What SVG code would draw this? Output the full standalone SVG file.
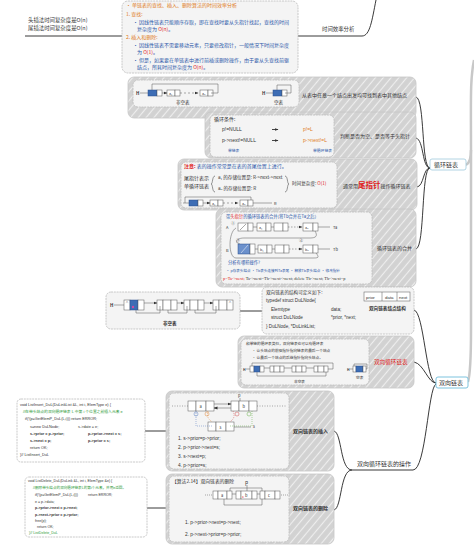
<svg xmlns="http://www.w3.org/2000/svg" width="474" height="553" viewBox="0 0 474 553">
<defs>
<pattern id="hatch" patternUnits="userSpaceOnUse" width="6" height="6" patternTransform="rotate(-50)">
<rect width="6" height="6" fill="#d2d2d2"/>
<line x1="0" y1="1.5" x2="6" y2="1.5" stroke="#eeeeee" stroke-width="1.2"/>
</pattern>
<marker id="ar" markerWidth="4" markerHeight="4" refX="3.5" refY="2" orient="auto" markerUnits="userSpaceOnUse"><path d="M0,0.5 L4,2 L0,3.5z" fill="#333"/></marker>
</defs>
<style>
text { font-family: "Noto Sans CJK SC","Noto Sans",sans-serif; font-size:5px; fill:#333; }
.hatch { fill:url(#hatch); stroke:#c6c6c6; stroke-width:0.8; }
.card { fill:#f4f4f4; stroke:#bdbdbd; stroke-width:0.8; stroke-dasharray:2 0.8; }
.wcard { fill:#ffffff; stroke:#bdbdbd; stroke-width:0.8; stroke-dasharray:2 0.8; }
.conn { fill:none; stroke:#222; stroke-width:0.9; }
.blue { fill:#2a56a8; }
.org { fill:#e07b1a; }
.red { fill:#e02020; }
.grn { fill:#2e9a3a; }
.nd { fill:#fff; stroke:#555; stroke-width:0.5; }
.hd { fill:#3d6db5; stroke:#2a4e8a; stroke-width:0.5; }
.ln { fill:none; stroke:#555; stroke-width:0.5; }
.code { font-family:"Liberation Sans","Noto Sans CJK SC",sans-serif; font-size:3.8px; }
.b { font-weight:bold; }
.lbl { font-size:5.2px; }
</style>

<g id="connectors">
<path class="conn" d="M25,36 L122,36"/>
<path class="conn" d="M298,36 L362,36 C370,36 372,20 376,0"/>
<path class="conn" d="M430,168 C421,168 425,99 416,97"/>
<path class="conn" d="M430,168 C422,168 424,140 416,138"/>
<path class="conn" d="M430,168 C423,168 424,186 417,187"/>
<path class="conn" d="M430,168 C421,168 425,247 416,249"/>
<path class="conn" d="M436,383 C426,383 424,312 414,310"/>
<path class="conn" d="M436,383 C428,383 424,364 414,362"/>
<path class="conn" d="M352,470 L413,470 C426,470 428,388 436,384"/>
<path class="conn" d="M352,470 C340,470 342,433 334,431"/>
<path class="conn" d="M352,470 C340,470 342,508 334,510"/>
<path class="conn" d="M240,311 L262,311"/>
<path class="conn" d="M145,431 L166,431"/>
<path class="conn" d="M147,508 L166,508"/>
<path fill="none" stroke="#c8c8c8" stroke-width="2.5" d="M474,60 C470,80 471,100 471,150 L471,330 C471,365 470,375 468,382"/>
<path fill="none" stroke="#c8c8c8" stroke-width="2.5" d="M466,165 C470,163 471,158 471,150"/>
</g>

<g id="n-head">
<text x="28" y="22" style="font-size:5.4px">头插法时间复杂度是O(n)</text>
<text x="28" y="30" style="font-size:5.4px">尾插法时间复杂度是O(n)</text>
</g>

<g id="n-timebox">
<rect class="card" x="122" y="1" width="176" height="72" rx="6"/>
<text x="126" y="7" class="org">• 单链表的查找、插入、删除算法的时间效率分析</text>
<text x="126" y="16" class="org">1.  查找:</text>
<text x="133" y="24" class="blue">• 因线性链表只能顺序存取，即在查找时要从头指针找起，查找的时间</text>
<text x="137" y="31" class="blue">复杂度为 <tspan class="red">O(n)</tspan>。</text>
<text x="126" y="39" class="org">2.  插入和删除:</text>
<text x="133" y="47" class="blue">• 因线性链表不需要移动元素，只要修改指针，一般情况下时间复杂度</text>
<text x="137" y="54" class="blue">为 <tspan class="red">O(1)</tspan>。</text>
<text x="133" y="62" class="blue">• 但是，如果要在单链表中进行前插或删除操作，由于要从头查找前驱</text>
<text x="137" y="69" class="blue">结点，所耗时间复杂度为 <tspan class="red">O(n)</tspan>。</text>
</g>

<g id="n-time">
<text x="322" y="31" style="font-size:5.4px">时间效率分析</text>
</g>

<g id="n-circ">
<rect class="wcard" x="430" y="159" width="36" height="11" rx="2" style="stroke:#9fc9dc;stroke-dasharray:none"/>
<text x="434" y="167" style="font-size:6px">循环链表</text>
</g>

<g id="n-any">
<rect class="hatch" x="128" y="77" width="288" height="41" rx="6"/>
<rect class="card" x="133" y="80" width="166" height="27" rx="5"/>
<text x="136" y="95" class="b" style="font-size:4.5px">H</text>
<path class="ln" d="M140,93 L148,93"/>
<rect class="hd" x="148" y="90" width="9" height="6"/><rect class="nd" x="157" y="90" width="5" height="6"/>
<path class="ln" d="M162,93 L167,93" marker-end="url(#ar)"/>
<rect class="nd" x="167" y="90" width="8" height="6"/><rect class="nd" x="175" y="90" width="5" height="6"/>
<text x="169" y="95" style="font-size:3.5px">a₁</text>
<path class="ln" d="M180,93 L198,93" stroke-dasharray="2 2" marker-end="url(#ar)"/>
<rect class="nd" x="200" y="90" width="8" height="6"/><rect class="nd" x="208" y="90" width="5" height="6"/>
<text x="202" y="95" style="font-size:3.5px">aₙ</text>
<path class="ln" d="M211,93 L218,93 L218,84 L152,84 L152,90"/>
<text x="176" y="104" style="font-size:4.5px">非空表</text>
<text x="262" y="95" class="b" style="font-size:4.5px">H</text>
<path class="ln" d="M266,93 L273,93"/>
<rect class="hd" x="273" y="90" width="9" height="6"/><rect class="nd" x="282" y="90" width="5" height="6"/>
<path class="ln" d="M285,93 L291,93 L291,85 L277,85 L277,90"/>
<text x="274" y="104" style="font-size:4.5px">空表</text>
<text x="302" y="97">从表中任意一个结点出发均可找到表中其他结点</text>
</g>

<g id="n-empty">
<rect class="hatch" x="205" y="112" width="211" height="46" rx="6"/>
<rect class="card" x="210" y="115" width="124" height="42" rx="5"/>
<text x="214" y="121">循环条件:</text>
<text x="222" y="131" class="code" style="font-size:5px">p!=NULL</text>
<path d="M272,129.5 L278,129.5" stroke="#333" stroke-width="0.9" marker-end="url(#ar)"/>
<text x="303" y="131" class="code org" style="font-size:5px">p!=L</text>
<text x="222" y="142" class="code" style="font-size:5px">p->next!=NULL</text>
<path d="M272,140.5 L278,140.5" stroke="#333" stroke-width="0.9" marker-end="url(#ar)"/>
<text x="303" y="142" class="code org" style="font-size:5px">p->next!=L</text>
<text x="228" y="152" class="blue" style="font-size:3.8px">单链表</text>
<text x="313" y="152" class="blue" style="font-size:3.8px">单循环链表</text>
<text x="340" y="138">判断是否为空、是否等于头指针</text>
</g>

<g id="n-tail">
<rect class="hatch" x="178" y="159" width="239" height="51" rx="6"/>
<rect class="card" x="181" y="162" width="156" height="46" rx="5"/>
<text x="184" y="168"><tspan class="red b">注意:</tspan><tspan class="blue"> 表的操作常常是在表的首尾位置上进行。</tspan></text>
<text x="184" y="180">尾指针表示</text>
<text x="184" y="188">单循环链表</text>
<path class="ln" d="M215,176 C212,176 213,184 211,184 C213,184 212,192 215,192" style="stroke:#333"/>
<text x="218" y="179" style="font-size:4.6px">a₁ 的存储位置是: R->next->next</text>
<text x="218" y="190" style="font-size:4.6px">aₙ 的存储位置是: R</text>
<path class="ln" d="M285,176 C288,176 287,184 289,184 C287,184 288,192 285,192" style="stroke:#333"/>
<text x="292" y="185" style="font-size:4.6px">时间复杂度: <tspan class="red">O(1)</tspan></text>
<path class="ln" d="M183,203 L189,203"/>
<rect class="hd" x="189" y="200" width="9" height="6"/><rect class="nd" x="198" y="200" width="5" height="6"/>
<path class="ln" d="M203,203 L210,203" marker-end="url(#ar)"/>
<rect class="nd" x="210" y="200" width="8" height="6"/><rect class="nd" x="218" y="200" width="5" height="6"/>
<text x="212" y="205" style="font-size:3.5px">a₁</text>
<path class="ln" d="M223,203 L238,203" stroke-dasharray="2 2" marker-end="url(#ar)"/>
<rect class="nd" x="240" y="200" width="8" height="6"/><rect class="nd" x="248" y="200" width="5" height="6"/>
<text x="242" y="205" style="font-size:3.5px">aₙ</text>
<path class="ln" d="M253,203 L272,203"/>
<path class="ln" d="M251,200 L251,197 L185,197 L185,203"/>
<text x="274" y="205" style="font-size:4px">R</text>
<text x="343" y="188" style="font-size:5px">通常用<tspan class="red b" style="font-size:7.5px">尾指针</tspan>操作循环链表</text>
</g>

<g id="n-merge">
<rect class="hatch" x="216" y="209" width="200" height="78" rx="6"/>
<rect class="card" x="221" y="212" width="151" height="72" rx="5"/>
<text x="226" y="218" class="blue" style="font-size:4.3px">带<tspan class="red">头指针</tspan>的循环链表的合并(将Tb合并在Ta之后)</text>
<text x="226" y="229" style="font-size:4px">A</text>
<text x="231" y="225" style="font-size:4px">①</text>
<rect class="nd" x="238" y="223" width="10" height="8"/><rect class="nd" x="248" y="223" width="5" height="8"/>
<path class="ln" d="M240,230 L246,224"/>
<rect class="nd" x="257" y="223" width="9" height="8"/><rect class="nd" x="266" y="223" width="5" height="8"/>
<text x="259" y="229" style="font-size:3.5px">a₁</text>
<rect class="nd" x="274" y="223" width="9" height="8"/><rect class="nd" x="283" y="223" width="5" height="8"/>
<path class="ln" d="M288,227 L302,227" stroke-dasharray="1.5 1.5" marker-end="url(#ar)"/>
<rect class="nd" x="303" y="223" width="10" height="8"/><rect class="nd" x="313" y="223" width="5" height="8"/>
<text x="305" y="229" style="font-size:3.5px">aₙ</text>
<path class="ln" d="M253,227 L257,227 M271,227 L274,227 M318,227 L330,227"/>
<text x="333" y="229" style="font-size:4px">Ta</text>
<path class="ln" d="M315,231 C318,236 316,238 310,238 L244,238 C236,238 234,243 240,244"/>
<text x="299" y="242" style="font-size:4px">②</text>
<text x="236" y="242" style="font-size:4px">③</text>
<text x="226" y="252" style="font-size:4px">B</text>
<rect class="hd" x="238" y="244" width="12" height="10" style="fill:#6b90cc"/><rect class="nd" x="250" y="244" width="5" height="10"/>
<path class="ln" d="M241,253 L248,245" style="stroke:#fff"/>
<rect class="nd" x="258" y="245" width="9" height="8"/><rect class="nd" x="267" y="245" width="5" height="8"/>
<text x="260" y="251" style="font-size:3.5px">b₁</text>
<rect class="nd" x="275" y="245" width="9" height="8"/><rect class="nd" x="284" y="245" width="5" height="8"/>
<path class="ln" d="M289,249 L302,249" stroke-dasharray="1.5 1.5" marker-end="url(#ar)"/>
<rect class="nd" x="303" y="245" width="10" height="8"/><rect class="nd" x="313" y="245" width="5" height="8"/>
<text x="305" y="251" style="font-size:3.5px">bₙ</text>
<path class="ln" d="M255,249 L258,249 M272,249 L275,249 M318,249 L330,249"/>
<text x="333" y="251" style="font-size:4px">Tb</text>
<path class="ln" d="M316,253 C320,258 318,258 312,258 L236,258 C228,258 228,232 236,228"/>
<text x="228" y="264" class="blue" style="font-size:4.3px">分析有哪些操作?</text>
<text x="226" y="271.5" class="blue" style="font-size:3.6px">•  p存表头结点   •  Tb表头连接到Ta表尾   •  释放Tb表头结点   •  修改指针</text>
<text x="223" y="279.5" style="font-family:'Liberation Serif',serif;font-size:4.4px"><tspan class="red">p=Ta->next;</tspan>  Ta->next=Tb->next->next;  delete Tb->next;  Tb->next=p</text>
<text x="377" y="250">循环链表的合并</text>
</g>

<g id="n-dullist">
<rect class="card" x="106" y="292" width="134" height="37" rx="5"/>
<text x="110" y="307" class="b" style="font-size:4.5px">H</text>
<path class="ln" d="M114,305 L124,305"/>
<rect class="nd" x="124" y="300" width="6" height="10"/><rect class="hd" x="130" y="300" width="8" height="10"/><rect class="nd" x="138" y="300" width="6" height="10"/>
<circle cx="133" cy="307" r="1.2" fill="#d04aa0"/>
<text x="125.5" y="304" style="font-size:3px">∧</text>
<path class="ln" d="M144,303 L157,303" marker-end="url(#ar)"/>
<rect class="nd" x="157" y="300" width="6" height="10"/><rect class="nd" x="163" y="300" width="8" height="10"/><rect class="nd" x="171" y="300" width="6" height="10"/>
<path class="ln" d="M177,303 L184,303" marker-end="url(#ar)"/>
<rect class="nd" x="184" y="300" width="6" height="10"/><rect class="nd" x="190" y="300" width="8" height="10"/><rect class="nd" x="198" y="300" width="6" height="10"/>
<path class="ln" d="M204,303 L213,303" marker-end="url(#ar)"/>
<rect class="nd" x="213" y="300" width="6" height="10"/><rect class="nd" x="219" y="300" width="8" height="10"/><rect class="nd" x="227" y="300" width="6" height="10"/>
<text x="228.5" y="304" style="font-size:3px">∧</text>
<path class="ln" d="M160,306 L160,313 L136,313 L136,310"/>
<path class="ln" d="M187,306 L187,313 L168,313 L168,310"/>
<path class="ln" d="M216,306 L216,313 L195,313 L195,310"/>
<text x="163" y="325" class="b" style="font-size:4.5px">非空表</text>
</g>

<g id="n-struct">
<rect class="card" x="262" y="287" width="152" height="47" rx="5"/>
<text x="266" y="294" style="font-size:4.6px">双向链表的结构可定义如下:</text>
<text x="266" y="302" class="code" style="font-size:4.6px">typedef struct DuLNode{</text>
<text x="271" y="311" class="code" style="font-size:4.6px">Elemtype</text>
<text x="331" y="311" class="code" style="font-size:4.6px">data;</text>
<text x="271" y="319" class="code" style="font-size:4.6px">struct DuLNode</text>
<text x="331" y="319" class="code" style="font-size:4.6px">*prior, *next;</text>
<text x="266" y="328" class="code" style="font-size:4.6px">} DuLNode, *DuLinkList;</text>
<rect x="364" y="292" width="46" height="9" fill="#fff" stroke="#555" stroke-width="0.5"/>
<path class="ln" d="M382,292 L382,301 M397,292 L397,301"/>
<text x="366" y="299" class="code" style="font-size:4.4px">prior</text>
<text x="385" y="299" class="code" style="font-size:4.4px">data</text>
<text x="399" y="299" class="code" style="font-size:4.4px">next</text>
<text x="369" y="310" class="b" style="font-size:4.6px">双向链表结点结构</text>
</g>

<g id="n-dulcirc">
<rect class="hatch" x="238" y="336" width="176" height="52" rx="6"/>
<rect class="card" x="241" y="339" width="128" height="46" rx="5"/>
<text x="246" y="345" style="font-size:3.7px">和单链的循环表类似，双向链表也可以有循环表</text>
<text x="252" y="352" style="font-size:3.7px">•  让头结点的前驱指针指向链表的最后一个结点</text>
<text x="252" y="359" style="font-size:3.7px">•  让最后一个结点的后继指针指向头结点。</text>
<text x="243" y="371" class="b" style="font-size:3.5px">H</text>
<path class="ln" d="M246,369 L250,369"/>
<rect class="nd" x="250" y="366" width="4" height="6"/><rect class="hd" x="254" y="366" width="6" height="6"/><rect class="nd" x="260" y="366" width="4" height="6"/>
<rect class="nd" x="270" y="366" width="4" height="6"/><rect class="nd" x="274" y="366" width="6" height="6"/><rect class="nd" x="280" y="366" width="4" height="6"/>
<rect class="nd" x="292" y="366" width="4" height="6"/><rect class="nd" x="296" y="366" width="6" height="6"/><rect class="nd" x="302" y="366" width="4" height="6"/>
<rect class="nd" x="314" y="366" width="4" height="6"/><rect class="nd" x="318" y="366" width="6" height="6"/><rect class="nd" x="324" y="366" width="4" height="6"/>
<path class="ln" d="M264,368 L270,368 M284,368 L292,368 M306,368 L314,368"/>
<path class="ln" d="M252,366 L252,363 L333,363 L333,369 L328,369"/>
<path class="ln" d="M326,372 L326,376 L257,376 L257,372"/>
<text x="294" y="383" style="font-size:3.7px">非空表</text>
<text x="347" y="371" class="b" style="font-size:3.5px">H</text>
<path class="ln" d="M350,369 L353,369"/>
<rect class="nd" x="353" y="366" width="3" height="6"/><rect class="hd" x="356" y="366" width="7" height="6"/><rect class="nd" x="363" y="366" width="3" height="6"/>
<path class="ln" d="M354,366 L354,364 L367,364 L367,369 L366,369"/>
<text x="356" y="379" style="font-size:3.7px">空表</text>
<text x="374" y="364" class="red" style="font-size:5.6px">双向循环链表</text>
</g>

<g id="n-dul">
<rect x="436" y="377" width="32" height="11" rx="2" fill="#fff" stroke="#7cc3de" stroke-width="1"/>
<text x="439" y="385" style="font-size:6px">双向链表</text>
</g>

<g id="n-ops">
<text x="357" y="466" style="font-size:6px">双向循环链表的操作</text>
</g>

<g id="n-inscode">
<rect class="wcard" x="17" y="399" width="128" height="63" rx="4"/>
<text x="20" y="406" class="code">void ListInsert_DuL(DuLinkList &amp;L, int i, ElemType e) {</text>
<text x="23" y="413" class="code grn">//在带头结点的双向循环链表 L 中第 i 个位置之前插入元素 e</text>
<text x="25" y="420" class="code">if(!(p=GetElemP_DuL(L,i))) return ERROR;</text>
<text x="30" y="428" class="code">s=new DuLNode;</text>
<text x="78" y="428" class="code">s->date = e;</text>
<text x="30" y="435" class="code b">s->prior = p->prior;</text>
<text x="88" y="435" class="code b">p->prior->next = s;</text>
<text x="30" y="442" class="code b">s->next = p;</text>
<text x="88" y="442" class="code b">p->prior = s;</text>
<text x="30" y="449" class="code">return OK;</text>
<text x="20" y="456" class="code">}// ListInsert_DuL</text>
</g>

<g id="n-ins">
<rect class="hatch" x="166" y="391" width="168" height="80" rx="6"/>
<rect class="card" x="169" y="393" width="120" height="76" rx="5"/>
<path class="ln" d="M172,406 L188,406 M257,406 L287,406" stroke-dasharray="1 1.5"/>
<rect class="nd" x="188" y="401" width="8" height="10"/><rect class="nd" x="196" y="401" width="10" height="10"/><rect class="nd" x="206" y="401" width="8" height="10"/>
<text x="199.5" y="408" style="font-size:4px">a</text>
<rect class="nd" x="231" y="401" width="8" height="10"/><rect class="nd" x="239" y="401" width="10" height="10"/><rect class="nd" x="249" y="401" width="8" height="10"/>
<text x="242.5" y="408" style="font-size:4px">b</text>
<text x="238" y="397" style="font-size:4px">p</text>
<path class="ln" d="M240,398 L240,401"/>
<path class="ln" d="M214,404 L231,404" marker-end="url(#ar)"/>
<path class="ln" d="M231,408 L214,408" marker-end="url(#ar)"/>
<rect class="nd" x="208" y="422" width="8" height="9"/><rect class="nd" x="216" y="422" width="10" height="9"/><rect class="nd" x="226" y="422" width="8" height="9"/>
<text x="219.5" y="428.5" style="font-size:4px">s</text>
<path class="ln" d="M234,427 L251,427"/>
<text x="253" y="428" style="font-size:4px">s</text>
<path fill="none" stroke="#5a7fc0" stroke-width="0.5" stroke-dasharray="1 1" d="M212,426 L196,426 L196,411"/>
<path fill="none" stroke="#e0883a" stroke-width="0.5" stroke-dasharray="1 1" d="M208,411 C206,418 210,420 212,422"/>
<path fill="none" stroke="#d05050" stroke-width="0.5" stroke-dasharray="1 1" d="M233,411 C236,418 232,420 230,422"/>
<path fill="none" stroke="#6ab04c" stroke-width="0.5" stroke-dasharray="1 1" d="M230,426 L252,426 L252,411"/>
<circle cx="196" cy="414" r="2" fill="none" stroke="#5a7fc0" stroke-width="0.5"/>
<circle cx="207" cy="414" r="2" fill="none" stroke="#e0883a" stroke-width="0.5"/>
<circle cx="237" cy="414" r="2" fill="none" stroke="#d05050" stroke-width="0.5"/>
<circle cx="249" cy="414" r="2" fill="none" stroke="#6ab04c" stroke-width="0.5"/>
<text x="178" y="440" class="code" style="font-size:4.8px">1.  s->prior=p->prior;</text>
<text x="178" y="449" class="code" style="font-size:4.8px">2.  p->prior->next=s;</text>
<text x="178" y="458" class="code" style="font-size:4.8px">3.  s->next=p;</text>
<text x="178" y="467" class="code" style="font-size:4.8px">4.  p->prior=s;</text>
<text x="293" y="433" class="b" style="font-size:5px">双向链表的插入</text>
</g>

<g id="n-delcode">
<rect class="wcard" x="25" y="477" width="122" height="60" rx="4"/>
<text x="28" y="482" class="code" style="font-size:3.6px">void ListDelete_DuL(DuLink &amp;L, int i, ElemType &amp;e) {</text>
<text x="33" y="489" class="code grn" style="font-size:3.6px">//删除带头结点的双向循环链表L的第i个元素，并用e返回。</text>
<text x="35" y="496" class="code" style="font-size:3.6px">if(!(p=GetElemP_DuL(L,i)))</text>
<text x="88" y="496" class="code" style="font-size:3.6px">return ERROR;</text>
<text x="35" y="502.5" class="code" style="font-size:3.6px">e = p->data;</text>
<text x="35" y="509" class="code b" style="font-size:3.6px">p->prior->next = p->next;</text>
<text x="35" y="515.5" class="code b" style="font-size:3.6px">p->next->prior = p->prior;</text>
<text x="35" y="522" class="code" style="font-size:3.6px">free(p);</text>
<text x="37" y="528" class="code" style="font-size:3.6px">return OK;</text>
<text x="29" y="534" class="code grn" style="font-size:3.6px">}// ListDelete_DuL</text>
</g>

<g id="n-del">
<rect class="hatch" x="166" y="474" width="168" height="70" rx="6"/>
<rect class="card" x="169" y="476" width="120" height="66" rx="5"/>
<text x="172" y="483" style="font-size:4.8px">【算法2.14】双向链表的删除</text>
<text x="245" y="484" style="font-size:5px">p</text>
<path class="ln" d="M247,485 L247,491"/>
<path class="ln" d="M205,495 L213,495 M281,495 L289,495" stroke-dasharray="1 1"/>
<rect class="nd" x="213" y="491" width="5" height="8"/><rect class="nd" x="218" y="491" width="9" height="8"/><rect class="nd" x="227" y="491" width="5" height="8"/>
<text x="221" y="497" style="font-size:4px">a</text>
<rect class="nd" x="236" y="491" width="5" height="8"/><rect class="nd" x="241" y="491" width="11" height="8"/><rect class="nd" x="252" y="491" width="5" height="8"/>
<text x="245" y="497" style="font-size:4px">b</text>
<text x="242" y="498" class="red" style="font-size:3.5px">x</text>
<rect class="nd" x="260" y="491" width="5" height="8"/><rect class="nd" x="265" y="491" width="10" height="8"/><rect class="nd" x="275" y="491" width="5" height="8"/>
<text x="268" y="497" style="font-size:4px">c</text>
<path class="ln" d="M232,494 L236,494 M257,494 L260,494"/>
<path class="ln" d="M230,491 L230,488 L262,488 L262,491"/>
<path class="ln" d="M262,499 L262,505 L224,505 L224,499"/>
<text x="185" y="524" class="code" style="font-size:4.8px">1. p->prior->next=p->next;</text>
<text x="185" y="536" class="code" style="font-size:4.8px">2. p->next->prior=p->prior;</text>
<text x="293" y="510" class="b" style="font-size:5px">双向链表的删除</text>
</g>
</svg>
